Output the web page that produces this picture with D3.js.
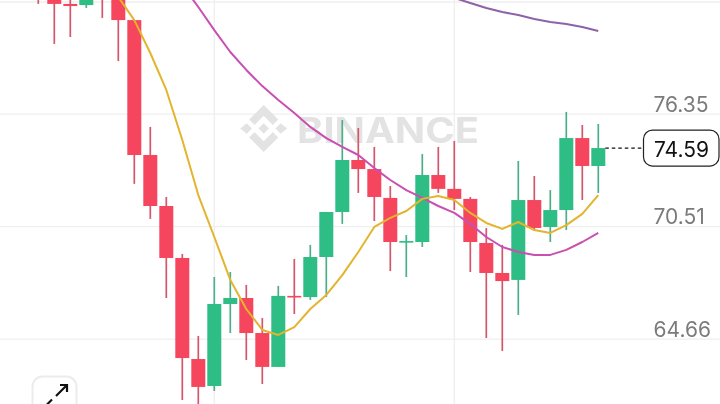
<!DOCTYPE html>
<html>
<head>
<meta charset="utf-8">
<script src="https://cdn.jsdelivr.net/npm/d3@7/dist/d3.min.js"></script>
<style>
html,body{margin:0;padding:0;background:#fff;overflow:hidden}
svg{display:block;filter:blur(0.55px)}
</style>
</head>
<body>
<svg id="c" width="720" height="404"></svg>
<script>
const openP  = [83.3,82.8,82.08,82.02,83.4,82.6,81.24,74.23,71.58,68.88,63.63,62.23,66.49,66.80,64.98,63.22,66.91,66.85,68.93,71.27,73.97,73.50,72.00,69.71,69.71,73.19,72.47,71.95,69.66,68.10,67.74,71.89,70.49,71.37,75.11,73.66];
const closeP = [82.9,82.08,81.97,82.7,82.6,81.24,74.23,71.58,68.88,63.68,62.18,66.49,66.80,64.98,63.22,66.91,66.85,68.93,71.27,73.97,73.50,72.05,69.71,69.76,73.19,72.47,71.95,69.71,68.10,67.68,71.89,70.44,71.37,75.11,73.66,74.59];
const highP  = [83.5,83.0,82.4,83.0,83.6,82.8,81.24,75.69,72.05,69.09,64.83,67.89,68.15,67.48,65.76,67.43,68.83,69.56,71.27,76.05,75.63,74.65,72.62,70.07,74.28,74.65,74.96,72.05,70.44,69.56,73.92,73.14,72.41,76.47,75.79,75.84];
const lowP   = [82.08,80.0,80.36,81.87,81.35,79.11,72.73,70.91,66.80,61.50,61.24,61.97,64.98,63.58,62.33,63.22,65.97,66.70,66.85,70.65,72.26,70.80,68.20,67.89,69.45,72.26,71.37,68.15,64.72,64.05,65.92,70.33,69.71,70.33,71.89,72.26];
const maFast = [null,null,null,null,null,82.44,81.24,79.53,77.61,75.01,72.15,69.97,67.74,66.23,65.14,64.88,65.29,66.23,66.96,67.99,69.19,70.49,70.96,71.32,71.95,72.10,71.89,71.22,70.70,70.39,70.75,70.33,70.18,70.59,71.17,72.15];
const maMid  = [null,null,null,null,null,null,null,null,null,83.06,81.92,80.72,79.58,78.65,77.81,77.09,76.41,75.69,75.11,74.65,74.23,73.55,72.93,72.41,72.00,71.58,71.22,70.65,69.97,69.45,69.19,69.04,69.04,69.30,69.71,70.18];
const maSlow = [null,null,null,null,null,null,null,null,null,null,null,null,null,null,null,null,null,null,null,null,null,null,null,null,null,null,82.39,82.13,81.87,81.66,81.50,81.30,81.14,81.04,80.88,80.67];
const priceTicks = [76.35,70.51,64.66];
const topGridPrice = 82.18;
const lastPrice = 74.59;
const verticalGridIndex = [11,26];

const W = 720, H = 404;
const svg = d3.select("#c");
const x = d3.scaleLinear().domain([0,35]).range([38.3,598.3]);
const y = d3.scaleLinear().domain([64.66,76.35]).range([339.2,114.2]);

// grid
const grid = svg.append("g").attr("stroke","#efefef").attr("stroke-width",1.3);
grid.selectAll("line.h").data(priceTicks.concat([topGridPrice])).join("line")
  .attr("x1",0).attr("x2",W).attr("y1",d=>y(d)).attr("y2",d=>y(d));
grid.selectAll("line.v").data(verticalGridIndex).join("line")
  .attr("class","v").attr("y1",0).attr("y2",H).attr("x1",d=>x(d)).attr("x2",d=>x(d));

// watermark
const wm = svg.append("g").attr("fill","#e3e3e3");
wm.append("text").attr("x",297).attr("y",142.5)
  .attr("font-family","Inter, 'Open Sans', sans-serif").attr("font-weight",700).attr("font-size",36)
  .attr("textLength",182).attr("lengthAdjust","spacingAndGlyphs").text("BINANCE");
const logo = wm.append("g").attr("transform","translate(263.7,128.5) scale(23.5)");
[
 "M0,-0.22L0.22,0L0,0.22L-0.22,0Z",
 "M-0.72,-0.22L-0.5,0L-0.72,0.22L-1,0Z",
 "M0.72,-0.22L1,0L0.72,0.22L0.5,0Z",
 "M0,-1L0.62,-0.38L0.39,-0.15L0,-0.54L-0.39,-0.15L-0.62,-0.38Z",
 "M0,1L0.62,0.38L0.39,0.15L0,0.54L-0.39,0.15L-0.62,0.38Z"
].forEach(p=>logo.append("path").attr("d",p));

// candles
const candles = d3.range(openP.length).map(i=>({i,o:openP[i],c:closeP[i],h:highP[i],l:lowP[i]}));
const color = d=>d.c>=d.o?"#2EBD85":"#F6465D";
const wickColor = d=>d.c>=d.o?"#4DAE8A":"#D4566C";
const g = svg.append("g");
g.selectAll("line").data(candles).join("line")
  .attr("x1",d=>x(d.i)).attr("x2",d=>x(d.i))
  .attr("y1",d=>y(d.h)).attr("y2",d=>y(d.l))
  .attr("stroke",wickColor).attr("stroke-width",1.7);
g.selectAll("rect").data(candles).join("rect")
  .attr("x",d=>x(d.i)-7).attr("width",14)
  .attr("y",d=>y(Math.max(d.o,d.c)))
  .attr("height",d=>Math.max(1.6,Math.abs(y(d.o)-y(d.c))))
  .attr("fill",color);

// moving averages
const line = d3.line().defined(d=>d!==null).x((d,i)=>x(i)).y(d=>y(d));
[[maSlow,"#8E62A8",2],[maMid,"#C94FB0",2],[maFast,"#E3B42D",2]].forEach(([s,c,w])=>{
  svg.append("path").attr("d",line(s)).attr("fill","none").attr("stroke",c).attr("stroke-width",w).attr("stroke-linejoin","round");
});

// price axis
const axis = d3.axisRight(y).tickValues(priceTicks).tickFormat(d3.format(".2f")).tickSize(0).tickPadding(0);
const ax = svg.append("g").attr("transform","translate(653.5,0)").call(axis);
ax.select(".domain").remove();
ax.selectAll("text").attr("font-family","Inter, sans-serif").attr("font-size",21)
  .attr("fill","#7b7b7b").attr("dy","-0.15em").attr("x",0);

// last price marker
const ly = y(lastPrice);
svg.append("line").attr("x1",x(35)+7).attr("x2",643).attr("y1",ly).attr("y2",ly)
  .attr("stroke","#111").attr("stroke-width",1.2).attr("stroke-dasharray","3.5 3");
svg.append("rect").attr("x",643.5).attr("y",ly-18).attr("width",75.5).attr("height",36).attr("rx",9)
  .attr("fill","#fff").attr("stroke","#222").attr("stroke-width",1.2);
svg.append("text").attr("x",681.5).attr("y",ly+9).attr("text-anchor","middle")
  .attr("font-family","Inter, sans-serif").attr("font-size",21).attr("fill","#111").text(d3.format(".2f")(lastPrice));

// expand button
svg.append("rect").attr("x",32.5).attr("y",376.5).attr("width",44).attr("height",44).attr("rx",10)
  .attr("fill","#fff").attr("stroke","#ececec").attr("stroke-width",2);
const arrow = svg.append("g").attr("stroke","#111").attr("stroke-width",2.2).attr("fill","none");
arrow.append("path").attr("d","M56,396L66.5,385.5M60,385H67V392");
arrow.append("path").attr("d","M52,399.5L47,404.5");
</script>
</body>
</html>
